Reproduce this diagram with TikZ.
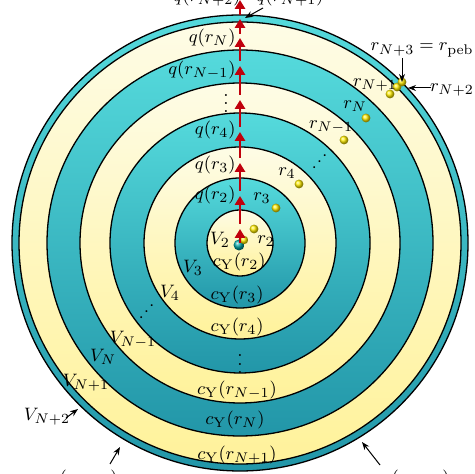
\documentclass[tikz,border=0pt]{standalone}
\usetikzlibrary{arrows.meta}
\definecolor{cyT}{HTML}{55DADC}
\definecolor{cyB}{HTML}{2296A8}
\definecolor{ylT}{HTML}{FEFCE6}
\definecolor{ylB}{HTML}{FFF29A}
\definecolor{arr}{HTML}{C0000C}
\begin{document}
\begin{tikzpicture}[x=0.5pt,y=0.5pt,
  cyring/.style={top color=cyT,bottom color=cyB,draw=black,line width=0.65pt},
  ylring/.style={top color=ylT,bottom color=ylB,draw=black,line width=0.65pt},
  flux/.style={draw=arr,line width=1.4pt,-{Triangle[length=4.4pt,width=5pt]}},
  gball/.style={ball color=yellow!85!orange},
  lab/.style={font=\fontsize{9.3}{11}\selectfont,inner sep=0pt},
  ptr/.style={draw=black,line width=0.5pt,-{Stealth[length=4pt,width=3pt]}}]
\useasboundingbox (0,0) rectangle (474,474);
\coordinate (C) at (240,231);
% rings
\shadedraw[cyring] (C) circle (228);
\shadedraw[ylring] (C) circle (221);
\shadedraw[cyring] (C) circle (193);
\shadedraw[ylring] (C) circle (160);
\shadedraw[cyring] (C) circle (130);
\shadedraw[ylring] (C) circle (96);
\shadedraw[cyring] (C) circle (65);
\shadedraw[ylring] (C) circle (33);
% centre spheres
\shade[ball color=teal!70!cyan] (239,229) circle (5.5);
\shade[gball] (244,234) circle (4.2);
% flux arrows
\foreach \i/\a/\b in {1/231/245,2/250/278,3/283/311,4/316/342,5/347/374,6/379/408,7/413/436,8/440/455,9/459/474}{
  \coordinate (t\i) at (240,\a);
  \coordinate (h\i) at (240,\b);
  \draw[flux] (t\i) -- (h\i);
}
% pebbles
\foreach \n/\x/\y in {b2/254/245,b3/276/266,b4/299/290,b5/344/334,b6/366/356,b7/390/380,b8/397/387,b9/402/392}{
  \shade[gball] (\x,\y) circle (4.4);
  \coordinate (\n) at (\x,\y);
}
% q labels
\node[lab,anchor=east] (q2) at (236,279) {$q(r_2)$};
\node[lab,anchor=east] (q3) at (236,309) {$q(r_3)$};
\node[lab,anchor=east] (q4) at (236,344) {$q(r_4)$};
\node[lab] (qd) at (226,376) {$\vdots$};
\node[lab,anchor=east] (qN1) at (236,404) {$q(r_{N-1})$};
\node[lab,anchor=east] (qN) at (236,436) {$q(r_N)$};
\node[lab] (qN2) at (207,477) {$q(r_{N+2})$};
\node[lab] (qN1p) at (290,477) {$q(r_{N+1})$};
\coordinate (qN1t) at (245,456);
\draw[ptr] (263,466) -- (qN1t);
% r labels
\node[lab] (r2) at (266,233) {$r_2$};
\node[lab] (r3) at (262,276) {$r_3$};
\node[lab] (r4) at (287,301) {$r_4$};
\node[lab,rotate=50] (rd) at (320,312) {$\cdots$};
\node[lab] (rN1) at (331,347) {$r_{N-1}$};
\node[lab] (rN) at (355,368) {$r_N$};
\node[lab] (rNp1) at (375,389) {$r_{N+1}$};
\node[lab] (rpeb) at (422,424) {$r_{N+3}=r_{\mathrm{peb}}$};
\node[lab] (rNp2) at (452,384) {$r_{N+2}$};
\draw[ptr] (402,416) -- (b9);
\draw[ptr] (431,386) -- (408,386);
% V labels
\node[lab] (V2) at (220,234) {$V_2$};
\node[lab] (V3) at (193,206) {$V_3$};
\node[lab] (V4) at (170,181) {$V_4$};
\node[lab,rotate=50] (Vd) at (147,162) {$\cdots$};
\node[lab] (VN1) at (133,134) {$V_{N-1}$};
\node[lab] (VN) at (103,117) {$V_N$};
\node[lab] (VNp1) at (86,91) {$V_{N+1}$};
\node[lab] (VNp2) at (47,57) {$V_{N+2}$};
\coordinate (VNp2t) at (78,65);
\draw[ptr] (66,56) -- (VNp2t);
% c labels
\node[lab] (c2) at (239,212) {$c_{\mathrm{Y}}(r_2)$};
\node[lab] (c3) at (237,179) {$c_{\mathrm{Y}}(r_3)$};
\node[lab] (c4) at (237,147) {$c_{\mathrm{Y}}(r_4)$};
\node[lab] (cd) at (240,116) {$\vdots$};
\node[lab] (cN1) at (237,84) {$c_{\mathrm{Y}}(r_{N-1})$};
\node[lab] (cN) at (235,54) {$c_{\mathrm{Y}}(r_N)$};
\node[lab] (cNp1) at (237,19) {$c_{\mathrm{Y}}(r_{N+1})$};
\node[lab] (cs) at (58,-5) {$c_{\mathrm{s}}=c_{\mathrm{Y}}(r_{N+3})$};
\node[lab] (cNp2) at (410,-5) {$c_{\mathrm{Y}}(r_{N+2})$};
\coordinate (cst) at (120,27);
\coordinate (cNp2t) at (362,32);
\draw[ptr] (110,10) -- (cst);
\draw[ptr] (380,9) -- (cNp2t);
\end{tikzpicture}
\end{document}
